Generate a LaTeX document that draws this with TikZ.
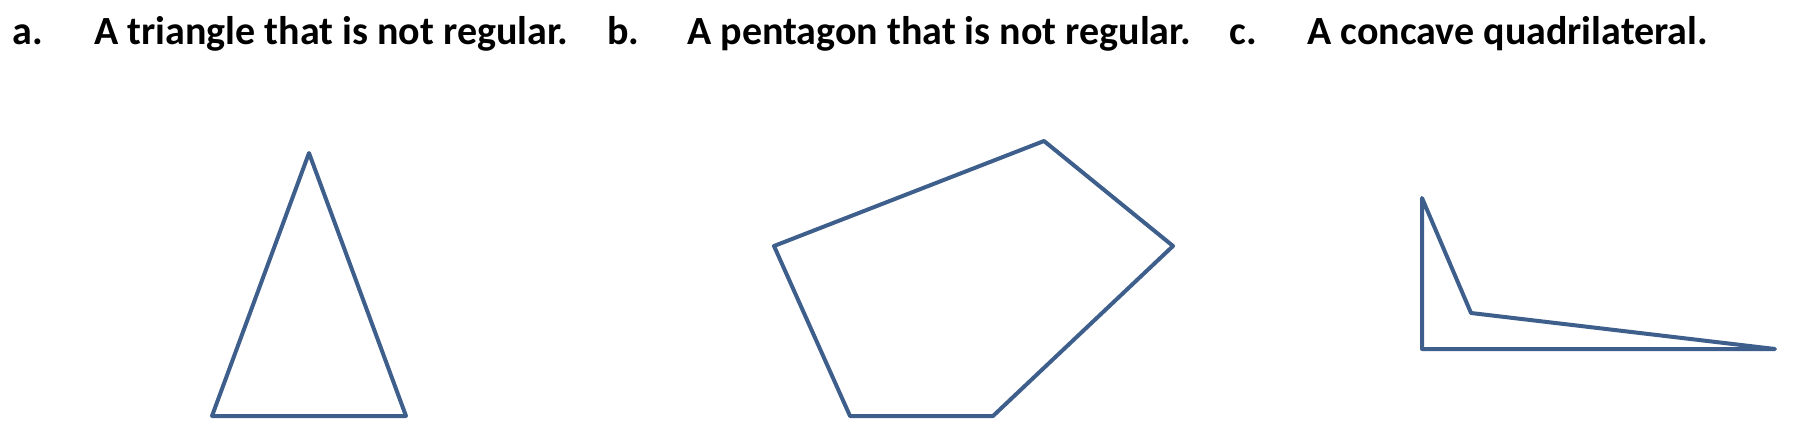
\documentclass[tikz,border=0pt]{standalone}
\usepackage{fontspec}
\setmainfont{Carlito}
\definecolor{shapeline}{RGB}{62,95,140}
\begin{document}
\begin{tikzpicture}[x=0.5pt,y=-0.5pt]
    \tikzstyle{caption}=[inner sep=0pt,anchor=base west,font=\fontsize{20pt}{24pt}\selectfont\bfseries]
    \tikzstyle{outline}=[draw=shapeline,line width=2pt,line join=round,line cap=round]
    \useasboundingbox (0,0) rectangle (1808,444);

    \node[caption] (la) at (12,45) {a.};
    \node[caption] (ta) at (94,45) {A triangle that is not regular.};
    \node[caption] (lb) at (607,45) {b.};
    \node[caption] (tb) at (687,45) {A pentagon that is not regular.};
    \node[caption] (lc) at (1229,45) {c.};
    \node[caption] (tc) at (1307,45) {A concave quadrilateral.};

    % triangle
    \coordinate (a1) at (309,153);
    \coordinate (a2) at (406,416);
    \coordinate (a3) at (212,416);
    \draw[outline] (a1) -- (a2) -- (a3) -- cycle;

    % pentagon
    \coordinate (b1) at (1044,141);
    \coordinate (b2) at (1173,246);
    \coordinate (b3) at (993,416);
    \coordinate (b4) at (850,416);
    \coordinate (b5) at (774,246);
    \draw[outline] (b1) -- (b2) -- (b3) -- (b4) -- (b5) -- cycle;

    % concave quadrilateral
    \coordinate (c1) at (1422,198);
    \coordinate (c2) at (1471,313);
    \coordinate (c3) at (1775,349);
    \coordinate (c4) at (1422,349);
    \draw[outline] (c1) -- (c2) -- (c3) -- (c4) -- cycle;
\end{tikzpicture}
\end{document}
